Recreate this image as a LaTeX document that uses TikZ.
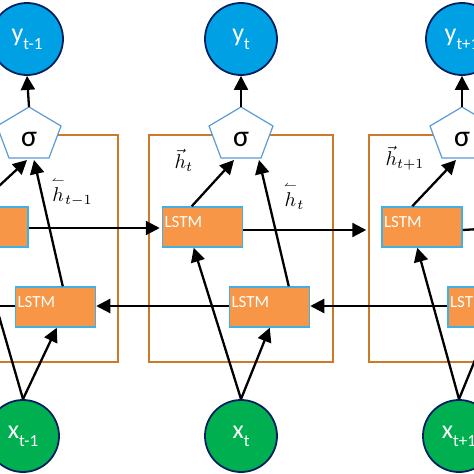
\RequirePackage{fix-cm}
\documentclass[tikz,border=0pt]{standalone}
\usepackage{amsmath}
\usepackage{graphicx}
\usepackage[no-math]{fontspec}
\setmainfont{Carlito}
\usetikzlibrary{arrows.meta,calc}
\definecolor{skyb}{RGB}{0,161,228}
\definecolor{grn}{RGB}{0,176,80}
\definecolor{navy}{RGB}{0,32,96}
\definecolor{orfill}{RGB}{247,150,70}
\definecolor{lstmline}{RGB}{64,176,230}
\definecolor{boxline}{RGB}{204,122,42}
\definecolor{pentline}{RGB}{91,155,213}
\newcommand{\mysub}[1]{\raisebox{-0.3em}{\fontsize{17}{17}\selectfont #1}}
\newcommand{\bh}{\overset{\scriptscriptstyle\leftharpoonup}{h}}
\newcommand{\bigmath}[1]{\scalebox{2.0}{$#1$}}
\tikzset{
 ycirc/.style={circle,draw=navy,line width=1.8pt,fill=skyb,minimum size=72pt,inner sep=0pt,text=white,font=\fontsize{26}{28}\selectfont},
 xcirc/.style={ycirc,fill=grn},
 lstm/.style={rectangle,draw=lstmline,line width=1.5pt,fill=orfill,text=white,font=\fontsize{17}{18}\selectfont,text width=76pt,align=left,inner xsep=2pt,inner ysep=2pt,text height=18pt,text depth=18pt},
 cell/.style={rectangle,draw=boxline,line width=2pt,minimum width=184pt,minimum height=227pt,inner sep=0pt},
 pent/.style={draw=pentline,line width=1.2pt,fill=white},
 sig/.style={font=\fontsize{30}{32}\selectfont,inner sep=0pt},
 arr/.style={line width=2.3pt,-{Triangle[length=14pt,width=14pt]}},
 plain/.style={line width=2.3pt},
 hlab/.style={inner sep=0pt},
}
\begin{document}
\begin{tikzpicture}[x=1pt,y=-1pt]
\useasboundingbox (0,0) rectangle (474,474);
\clip (0,0) rectangle (474,474);
\fill[white] (0,0) rectangle (474,474);
% cells
\node[cell] (c1) at (26,248.5) {};
\node[cell] (c2) at (241,248.5) {};
\node[cell] (c3) at (461,248.5) {};
% pentagons
\foreach \n/\x in {1/29,2/241,3/462}{
  \draw[pent] (\x,107) -- (\x+32,126) -- (\x+20,158) -- (\x-20,158) -- (\x-32,126) -- cycle;
  \node[sig] (s\n) at (\x,139) {σ};
  \coordinate (pt\n) at (\x,107);
}
\coordinate (pf1) at (27,160);
\coordinate (pb1) at (34,160);
\coordinate (pf2) at (234,160);
\coordinate (pb2) at (259,160);
\coordinate (pf3) at (456,160);
\coordinate (pb3) at (481,160);
% output circles
\node[ycirc] (y1) at (27,39) {y\mysub{t-1}};
\node[ycirc] (y2) at (241,39) {y\mysub{t}};
\node[ycirc] (y3) at (462,39) {y\mysub{t+1}};
% input circles
\node[xcirc] (x1) at (23,436) {x\mysub{t-1}};
\node[xcirc] (x2) at (241,436) {x\mysub{t}};
\node[xcirc] (x3) at (459,436) {x\mysub{t+1}};
% LSTMs
\node[lstm] (f1) at (-12,227) {LSTM};
\node[lstm] (f2) at (202.5,227) {LSTM};
\node[lstm] (f3) at (422,227) {LSTM};
\node[lstm] (b1) at (55.5,307) {LSTM};
\node[lstm] (b2) at (269.5,307) {LSTM};
\node[lstm] (b3) at (488,307) {LSTM};
\coordinate (fout) at (480,229);
\coordinate (bout) at (-5,306);
% outputs
\foreach \n in {1,2,3}{
  \draw[arr] (pt\n) -- (y\n.south);
}
% forward to sigma
\draw[arr] ([xshift=30pt]f1.north west) -- (pf1);
\draw[arr] ([xshift=30pt]f2.north west) -- (pf2);
\draw[arr] ([xshift=31pt]f3.north west) -- (pf3);
% backward to sigma
\draw[arr] ([xshift=48pt]b1.north west) -- (pb1);
\draw[arr] ([xshift=60pt]b2.north west) -- (pb2);
\draw[arr] ([xshift=60pt]b3.north west) -- (pb3);
% inputs
\draw[arr] (x1.north) -- ([xshift=32pt]f1.south west);
\draw[arr] (x1.north) -- ([xshift=42pt]b1.south west);
\draw[arr] (x2.north) -- ([xshift=32pt]f2.south west);
\draw[arr] (x2.north) -- ([xshift=41pt]b2.south west);
\draw[arr] (x3.north) -- ([xshift=36pt]f3.south west);
\draw[arr] (x3.north) -- ([xshift=41pt]b3.south west);
% forward chain
\draw[arr,shorten >=2pt] ([yshift=-1pt]f1.east) -- ([yshift=-1pt]f2.west);
\draw[arr,shorten >=15pt] ([yshift=-3pt]f2.east) -- ([yshift=-3pt]f3.west);
\draw[plain] ([yshift=-3pt]f3.east) -- (fout);
% backward chain
\draw[arr] ([yshift=1pt]b3.west) -- ([yshift=1pt]b2.east);
\draw[arr] ([yshift=1pt]b2.west) -- ([yshift=1pt]b1.east);
\draw[plain] ([yshift=1pt]b1.west) -- (bout);
% labels
\node[hlab] (hf2) at (184,160) {\bigmath{\vec{h}_t}};
\node[hlab] (hb2) at (294,196) {\bigmath{\bh_t}};
\node[hlab] (hb1) at (72,192) {\bigmath{\bh_{t-1}}};
\node[hlab] (hf3) at (405,158) {\bigmath{\vec{h}_{t+1}}};
\end{tikzpicture}
\end{document}
